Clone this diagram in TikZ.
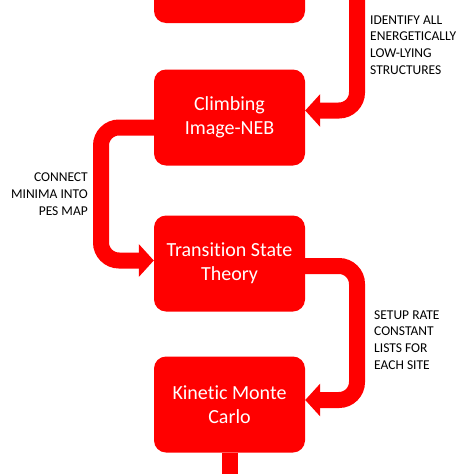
\documentclass[tikz,border=0pt]{standalone}
\usepackage{fontspec}
\setmainfont{Carlito}[RawFeature=-liga]
\usetikzlibrary{arrows.meta}
\definecolor{boxred}{RGB}{255,0,0}
\tikzset{
  stepbox/.style={fill=boxred, draw=none, rounded corners=12pt, minimum width=151pt, minimum height=96pt, text=white, align=center, font=\fontsize{20}{24}\selectfont, inner sep=0pt},
  flow/.style={draw=boxred, line width=16pt, rounded corners=18pt, -{Triangle[length=15pt,width=32pt]}},
  plainflow/.style={draw=boxred, line width=16pt},
  note/.style={inner sep=0pt, font=\fontsize{13.5}{16.7}\selectfont, text=black}
}
\begin{document}
\begin{tikzpicture}[x=1pt,y=-1pt]
\useasboundingbox (0,0) rectangle (474,474);
\clip (0,0) rectangle (474,474);
\node[stepbox] (a) at (229.5,-25) {};
\node[stepbox] (b) at (229.5,117.5) {Climbing\\Image-NEB};
\node[stepbox] (c) at (229.5,263.5) {Transition State\\Theory};
\node[stepbox] (d) at (229.5,404.5) {Kinetic Monte\\Carlo};
\coordinate (e) at (229.5,490);
\draw[flow] (a.east) -- (357,-25) |- ([yshift=7pt]b.east);
\draw[flow] ([yshift=-10pt]b.west) -- (101,127.5) |- ([yshift=3pt]c.west);
\draw[flow] ([yshift=-2.5pt]c.east) -- (357,266) |- ([yshift=4.5pt]d.east);
\draw[plainflow] (d.south) -- (e);
\node[note, anchor=west, align=left] (n1) at (370,45) {IDENTIFY ALL\\ENERGETICALLY\\LOW-LYING\\STRUCTURES};
\node[note, anchor=east, align=right] (n2) at (88,194) {CONNECT\\MINIMA INTO\\PES MAP};
\node[note, anchor=west, align=left] (n3) at (374,340) {SETUP RATE\\CONSTANT\\LISTS FOR\\EACH SITE};
\end{tikzpicture}
\end{document}
